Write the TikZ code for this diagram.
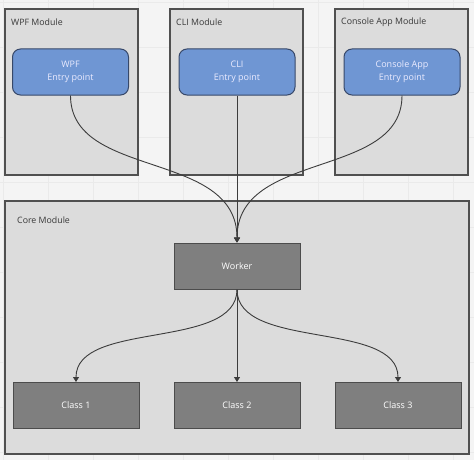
\documentclass[tikz,border=0pt]{standalone}
\usepackage{fontspec}
\setmainfont{Open Sans}
\usetikzlibrary{arrows.meta}
\definecolor{bggray}{RGB}{244,244,244}
\definecolor{gridgray}{RGB}{234,234,234}
\definecolor{modfill}{RGB}{220,220,220}
\definecolor{modline}{RGB}{80,80,80}
\definecolor{entryblue}{RGB}{111,150,211}
\definecolor{entryline}{RGB}{55,72,105}
\definecolor{classgray}{RGB}{127,127,127}
\definecolor{wiregray}{RGB}{60,60,60}
\tikzset{
  module/.style={draw=modline, fill=modfill, line width=1.2pt, outer sep=0pt, anchor=north west, minimum width=133pt, minimum height=166pt},
  modlabel/.style={anchor=west, inner sep=0pt, text=black!78, font=\fontsize{8.8}{10}\selectfont},
  entry/.style={draw=entryline, fill=entryblue, rounded corners=8pt, line width=1pt, minimum width=116pt, minimum height=46pt, align=center, text=white!92!blue, font=\fontsize{9}{13}\selectfont},
  classbox/.style={draw=black!70, fill=classgray, line width=1pt, minimum width=126pt, minimum height=46pt, text=white!88, font=\fontsize{9}{10}\selectfont},
  wire/.style={draw=wiregray, line width=0.9pt, -{Triangle[length=5pt,width=6pt]}}
}

\begin{document}
\begin{tikzpicture}[x=1pt,y=-1pt]
\useasboundingbox (0,0) rectangle (474,460);
\fill [bggray] (0,0) rectangle (474,460);
\foreach \gx in {3,48,...,453} \draw [gridgray, line width=0.6pt] (\gx,0)--(\gx,460);
\foreach \gy in {2,47,...,452} \draw [gridgray, line width=0.6pt] (0,\gy)--(474,\gy);

% modules
\node [module] (wpfmod) at (5,9) {};
\node [module] (climod) at (170,9) {};
\node [module] (conmod) at (335,9) {};
\node [module, minimum width=464pt, minimum height=253pt] (coremod) at (5,201) {};

\node [modlabel] (wpflbl) at ([shift={(6,13)}]wpfmod.north west) {WPF Module};
\node [modlabel] (clilbl) at ([shift={(6,13)}]climod.north west) {CLI Module};
\node [modlabel] (conlbl) at ([shift={(6,13)}]conmod.north west) {Console App Module};
\node [modlabel] (corelbl) at ([shift={(12,19)}]coremod.north west) {Core Module};

% entry points
\node [entry] (wpf) at (70.5,72) {WPF\\Entry point};
\node [entry] (cli) at (237,72) {CLI\\Entry point};
\node [entry] (con) at (402,72) {Console App\\Entry point};

% core
\node [classbox] (worker) at (237,266) {Worker};
\node [classbox] (class1) at (76,405.5) {Class 1};
\node [classbox] (class2) at (237,405.5) {Class 2};
\node [classbox] (class3) at (398,405.5) {Class 3};

\draw [wire] (wpf.south) .. controls +(0,84) and +(0,-93) .. (worker.north);
\draw [wire] (cli.south) -- (worker.north);
\draw [wire] (con.south) .. controls +(0,84) and +(0,-93) .. (worker.north);

\draw [wire] (worker.south) .. controls +(0,61) and +(0,-62) .. (class1.north);
\draw [wire] (worker.south) -- (class2.north);
\draw [wire] (worker.south) .. controls +(0,61) and +(0,-62) .. (class3.north);

\end{tikzpicture}
\end{document}
